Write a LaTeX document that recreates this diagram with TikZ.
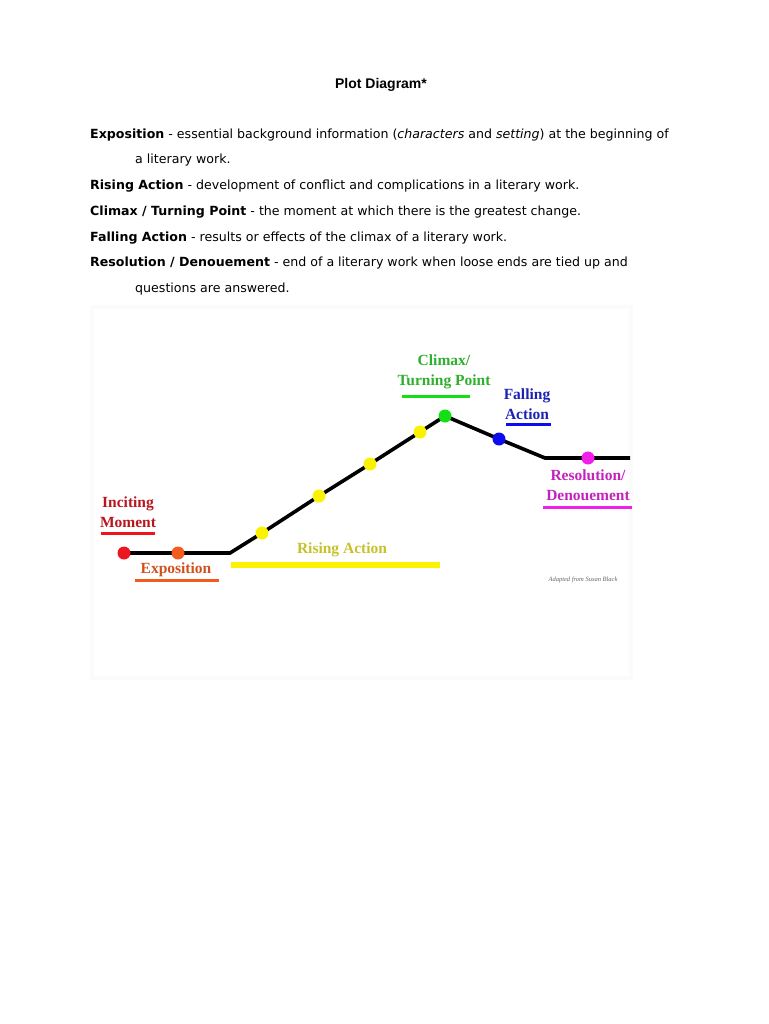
\documentclass[tikz,border=0pt]{standalone}
\usepackage{fontspec}
\setmainfont{DejaVu Sans}
\newfontfamily\titlefont{Liberation Sans}
\newfontfamily\labelfont{Liberation Serif}

\definecolor{incitetext}{HTML}{B8161E}
\definecolor{incitered}{HTML}{EC1520}
\definecolor{expotext}{HTML}{D2501E}
\definecolor{expoorange}{HTML}{F25A1E}
\definecolor{risetext}{HTML}{C9C12A}
\definecolor{riseyellow}{HTML}{FAF200}
\definecolor{climaxtext}{HTML}{2DB02D}
\definecolor{climaxgreen}{HTML}{12E012}
\definecolor{falltext}{HTML}{1C22B6}
\definecolor{fallblue}{HTML}{0C0CEE}
\definecolor{resotext}{HTML}{C322BB}
\definecolor{resomagenta}{HTML}{F21EEA}

\tikzset{
  deftext/.style={anchor=base west, inner sep=0pt, font=\fontsize{12.6}{15}\selectfont},
  plotlabel/.style={align=center, inner sep=0pt, text=#1,
    font=\labelfont\bfseries\fontsize{15.5}{20}\selectfont},
  underbar/.style={draw=#1, line width=3pt},
  plotdot/.style={circle, fill=#1, inner sep=0pt, minimum size=13pt},
  plotline/.style={line width=3.6pt, line join=miter}
}

\begin{document}
\begin{tikzpicture}[x=1pt, y=-1pt]
  \useasboundingbox[fill=white] (0,0) rectangle (768,1024);

  % Titel
  \node[anchor=base, inner sep=0pt, font=\titlefont\bfseries\fontsize{14}{16}\selectfont] (title) at (381,89) {Plot Diagram*};

  % Begriffe
  \node[deftext] (defexpo) at (90,139) {\textbf{Exposition} - essential background information (\textit{characters} and \textit{setting}) at the beginning of};
  \node[deftext] (defexpob) at (135,164) {a literary work.};
  \node[deftext] (defrise) at (90,190) {\textbf{Rising Action} - development of conflict and complications in a literary work.};
  \node[deftext] (defclimax) at (90,216) {\textbf{Climax / Turning Point} - the moment at which there is the greatest change.};
  \node[deftext] (deffall) at (90,241) {\textbf{Falling Action} - results or effects of the climax of a literary work.};
  \node[deftext] (defreso) at (90,266) {\textbf{Resolution / Denouement} - end of a literary work when loose ends are tied up and};
  \node[deftext] (defresob) at (135,292) {questions are answered.};

  % Bildfeld
  \fill[black!1.5] (90,305) rectangle (633,680);
  \fill[white] (94,309) rectangle (629,676);

  % Knickpunkte der Kurve
  \coordinate (incite) at (124,553);
  \coordinate (expo) at (178,553);
  \coordinate (risestart) at (230,553);
  \coordinate (riseA) at (262,533);
  \coordinate (riseB) at (319,496);
  \coordinate (riseC) at (370,464);
  \coordinate (riseD) at (420,432);
  \coordinate (climax) at (445,416);
  \coordinate (fall) at (499,439);
  \coordinate (resostart) at (545,458);
  \coordinate (reso) at (588,458);
  \coordinate (resoend) at (630,458);

  \draw[plotline] (incite) -- (expo) -- (risestart) -- (riseA) -- (riseB) -- (riseC) -- (riseD)
    -- (climax) -- (fall) -- (resostart) -- (reso) -- (resoend);

  % Punkte
  \node[plotdot=incitered] (incitedot) at (incite) {};
  \node[plotdot=expoorange] (expodot) at (expo) {};
  \foreach \p in {riseA,riseB,riseC,riseD}
    \node[plotdot=riseyellow] (\p dot) at (\p) {};
  \node[plotdot=climaxgreen] (climaxdot) at (climax) {};
  \node[plotdot=fallblue] (falldot) at (fall) {};
  \node[plotdot=resomagenta] (resodot) at (reso) {};

  % Beschriftungen
  \node[plotlabel=incitetext] (incitelabel) at (128,512) {Inciting\\Moment};
  \draw[underbar=incitered] (101,533) -- (155,533);

  \node[plotlabel=expotext] (expolabel) at (176,570) {Exposition};
  \draw[underbar=expoorange] (135,580) -- (219,580);

  \node[plotlabel=risetext] (riselabel) at (342,550) {Rising Action};
  \draw[draw=riseyellow, line width=6pt] (231,565) -- (440,565);

  \node[plotlabel=climaxtext] (climaxlabel) at (444,372) {Climax/\\Turning Point};
  \draw[underbar=climaxgreen] (402,396) -- (470,396);

  \node[plotlabel=falltext] (falllabel) at (527,404) {Falling\\Action};
  \draw[underbar=fallblue] (506,424) -- (551,424);

  \node[plotlabel=resotext] (resolabel) at (588,485) {Resolution/\\Denouement};
  \draw[underbar=resomagenta] (543,507) -- (632,507);

  \node[inner sep=0pt, text=black!60, font=\labelfont\itshape\fontsize{6.5}{7}\selectfont] (credit) at (583,580) {Adapted from Susan Black};
\end{tikzpicture}
\end{document}
